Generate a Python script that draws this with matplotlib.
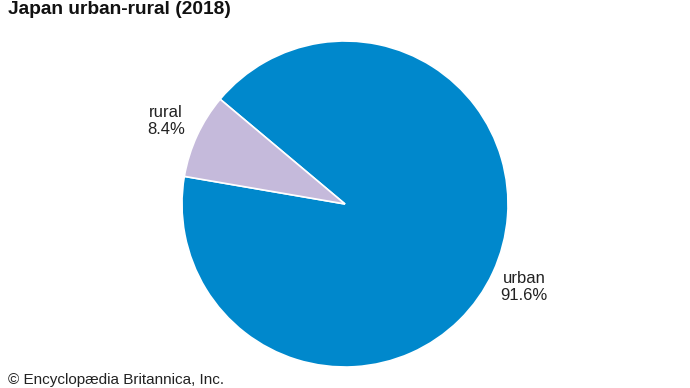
import matplotlib
matplotlib.use('Agg')
import matplotlib.pyplot as plt

plt.rcParams['font.family'] = ['Liberation Sans', 'DejaVu Sans']

# data
categories = ['urban', 'rural']
shares = [91.6, 8.4]
colors = ['#0088cc', '#c5badb']

fig = plt.figure(figsize=(6.9, 3.88), dpi=100)
fig.patch.set_facecolor('white')

# pie axes: centre ~(345,204) px, radius ~163 px
ax = fig.add_axes([(345 - 163) / 690, (388 - 204 - 163) / 388, 326 / 690, 326 / 388])
labels = [c + '\n' + ('%.1f%%' % v) for c, v in zip(categories, shares)]
wedges, texts = ax.pie(shares, colors=colors, labels=labels, startangle=170.24,
                       counterclock=True, labeldistance=1.21, radius=1,
                       wedgeprops={'edgecolor': 'white', 'linewidth': 1.2},
                       textprops={'fontsize': 12, 'color': '#222222'})
for t in texts:
    t.set_ha('center')
    t.set_va('center')
    t.set_multialignment('center')
    t.set_linespacing(1.2)
ax.set_xlim(-1, 1)
ax.set_ylim(-1, 1)
ax.set_aspect('equal')

fig.text(8 / 690, 1 - 9 / 388, 'Japan urban-rural (2018)', fontsize=13.8,
         fontweight='bold', ha='left', va='center', color='#111111')
fig.text(8 / 690, 1 - 380 / 388, '\u00a9 Encyclop\u00e6dia Britannica, Inc.',
         fontsize=11, ha='left', va='center', color='#222222')

fig.savefig('out.png', dpi=100)
